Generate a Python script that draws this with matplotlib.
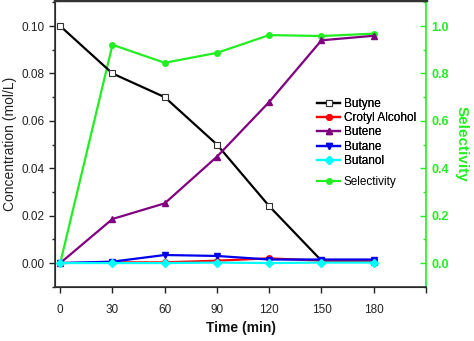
import matplotlib
matplotlib.use("Agg")
from matplotlib import pyplot as plt
from matplotlib.ticker import MultipleLocator

plt.rcParams['font.family'] = ['Liberation Sans', 'DejaVu Sans']

# Datos
tiempo = [0, 30, 60, 90, 120, 150, 180]
butyne = [0.100, 0.080, 0.070, 0.050, 0.024, 0.001, 0.0005]
crotyl_alcohol = [0.0, 0.0003, 0.0003, 0.001, 0.002, 0.001, 0.001]
butene = [0.0, 0.0186, 0.0252, 0.0449, 0.068, 0.094, 0.0959]
butane = [0.0, 0.0006, 0.0034, 0.003, 0.0015, 0.0015, 0.0015]
butanol = [0.0, 0.0, 0.0, 0.0002, 0.0, 0.0002, 0.0002]
selectivity = [0.0, 0.921, 0.845, 0.887, 0.962, 0.958, 0.968]

verde = '#22ee22'

fig = plt.figure(figsize=(4.74, 3.41), dpi=100)
ax = fig.add_axes([55/474, 1 - 287/341, (426 - 55)/474, 287/341])
ax2 = ax.twinx()

# Eje derecho: selectividad
ax2.plot(tiempo, selectivity, color=verde, marker='o', ms=4, lw=1.6, label='Selectivity', zorder=1)

ax.set_zorder(ax2.get_zorder() + 1)
ax.patch.set_visible(False)

ax.plot(tiempo, butyne, color='black', marker='s', ms=4.5, mfc='white', mec='#333333', mew=0.8, lw=1.6, label='Butyne')
ax.plot(tiempo, crotyl_alcohol, color='red', marker='o', ms=4, lw=1.6, label='Crotyl Alcohol')
ax.plot(tiempo, butene, color='#800080', marker='^', ms=5, lw=1.6, label='Butene')
ax.plot(tiempo, butane, color='#0000ee', marker='v', ms=5, lw=1.6, label='Butane')
ax.plot(tiempo, butanol, color='#00ffff', marker='D', ms=4, lw=1.6, label='Butanol')

ax.set_xlim(-3, 210)
ax.set_ylim(-0.0101, 0.111)
ax2.set_ylim(-0.101, 1.11)

ax.set_xticks([0, 30, 60, 90, 120, 150, 180, 210])
ax.set_xticklabels(['0', '30', '60', '90', '120', '150', '180', ''])
ax.set_yticks([0.0, 0.02, 0.04, 0.06, 0.08, 0.10])
ax.yaxis.set_minor_locator(MultipleLocator(0.01))
ax2.set_yticks([0.0, 0.2, 0.4, 0.6, 0.8, 1.0])
ax2.yaxis.set_minor_locator(MultipleLocator(0.1))

ax.tick_params(axis='x', direction='out', length=4, width=1, labelsize=8.5, colors='#222222', pad=8, top=True)
ax.tick_params(axis='y', which='major', direction='out', length=4, width=1, labelsize=8.5, colors='#222222')
ax.tick_params(axis='y', which='minor', direction='out', length=2, width=1, colors='#222222')
ax2.tick_params(axis='y', which='major', direction='in', length=4, width=1, labelsize=9, colors=verde, pad=4)
ax2.tick_params(axis='y', which='minor', direction='in', length=2, width=1, colors=verde)
for t in ax2.get_yticklabels():
    t.set_fontweight('bold')

for s in ['left', 'bottom', 'top']:
    ax.spines[s].set_color('#333333')
    ax.spines[s].set_linewidth(1.2)
ax.spines['top'].set_linewidth(2.5)
ax2.spines['right'].set_color(verde)
ax2.spines['right'].set_linewidth(1.2)
ax.spines['right'].set_visible(False)

ax.set_xlabel('Time (min)', fontsize=10, fontweight='bold', color='#111111', labelpad=4)
ax.set_ylabel('Concentration (mol/L)', fontsize=10, color='#222222', labelpad=3)
ax2.set_ylabel('Selectivity', fontsize=11, fontweight='bold', color=verde, rotation=-90, labelpad=14)

leg1 = ax.legend(loc='upper left', bbox_to_anchor=(0.693, 0.676), frameon=False, fontsize=8.5,
                 handlelength=2.0, handletextpad=0.3, labelspacing=0.2, borderaxespad=0)
ax.add_artist(leg1)
ax2.legend(loc='upper left', bbox_to_anchor=(0.693, 0.404), frameon=False, fontsize=8.5,
           handlelength=2.0, handletextpad=0.3, borderaxespad=0)

fig.savefig('out.png', dpi=100)
